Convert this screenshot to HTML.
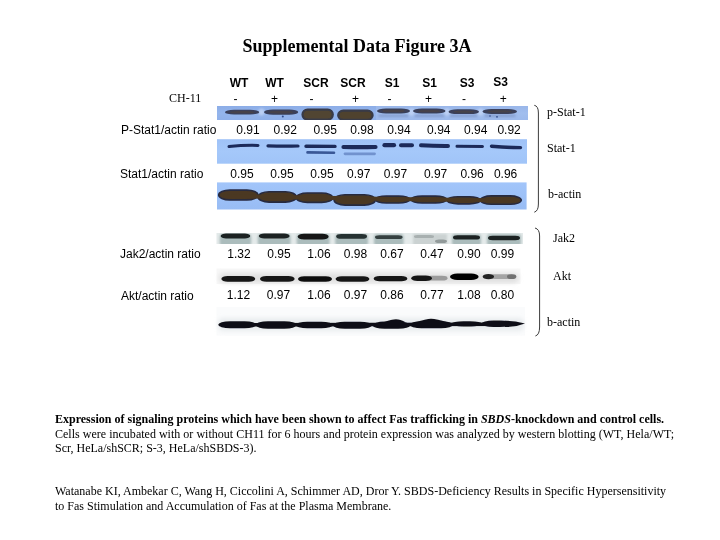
<!DOCTYPE html>
<html><head><meta charset="utf-8"><title>Supplemental Data Figure 3A</title>
<style>
html,body{margin:0;padding:0;background:#fff;}
body{width:720px;height:540px;position:relative;overflow:hidden;font-family:"Liberation Sans",Arial,sans-serif;color:#000;}
.t{position:absolute;white-space:nowrap;line-height:1;}
.serif{font-family:"Liberation Serif","Times New Roman",serif;}
.title{left:-3px;width:720px;text-align:center;top:37px;font-size:18px;font-weight:bold;}
.hd{font-size:12px;font-weight:bold;transform:translateX(-50%);}
.pm{font-size:12px;transform:translateX(-50%);}
.n{font-size:12px;transform:translateX(-50%);}
.lab{font-size:12px;}
.sl{font-size:12px;}
.cap{left:55px;font-size:12px;line-height:14px;white-space:nowrap;}
svg{position:absolute;left:0;top:0;}
</style></head><body>
<div class="t serif title">Supplemental Data Figure 3A</div>

<svg id="blots" width="720" height="540" viewBox="0 0 720 540">
<defs>
<filter id="b0" x="-10%" y="-50%" width="120%" height="200%"><feGaussianBlur stdDeviation="0.45"/></filter>
<filter id="b1" x="-10%" y="-50%" width="120%" height="200%"><feGaussianBlur stdDeviation="0.7"/></filter>
<filter id="b2" x="-10%" y="-80%" width="120%" height="260%"><feGaussianBlur stdDeviation="1.2"/></filter>
<filter id="b3" x="-10%" y="-100%" width="120%" height="300%"><feGaussianBlur stdDeviation="2.2"/></filter>
<linearGradient id="g1" x1="0" y1="0" x2="0" y2="1"><stop offset="0" stop-color="#8cade7"/><stop offset="0.5" stop-color="#94b5ec"/><stop offset="1" stop-color="#90b1ea"/></linearGradient>
<linearGradient id="g2" x1="0" y1="0" x2="0" y2="1"><stop offset="0" stop-color="#9fc2f7"/><stop offset="0.5" stop-color="#a5c8fa"/><stop offset="1" stop-color="#a0c4f8"/></linearGradient>
<linearGradient id="g3" x1="0" y1="0" x2="0" y2="1"><stop offset="0" stop-color="#a2c5fa"/><stop offset="0.6" stop-color="#9cc0f7"/><stop offset="1" stop-color="#98bcf4"/></linearGradient>
<clipPath id="c1"><rect x="217" y="106" width="311" height="14"/></clipPath>
<clipPath id="c2"><rect x="217" y="139.2" width="310" height="24.5"/></clipPath>
<clipPath id="c3"><rect x="217" y="182.4" width="309.6" height="27.1"/></clipPath>
<clipPath id="c4"><rect x="216.5" y="233" width="307" height="11"/></clipPath>
</defs>
<rect x="217" y="106" width="311" height="14" fill="url(#g1)"/>
<g clip-path="url(#c1)">
<rect x="376" y="106" width="152" height="14" fill="#ffffff" opacity="0.12"/>
<g filter="url(#b2)">
<rect x="378.0" y="114.6" width="31.0" height="2.4" rx="2.6" ry="1.2" fill="#5a6a9a" opacity="0.38" />
<rect x="414.0" y="114.6" width="31.0" height="2.4" rx="2.6" ry="1.2" fill="#5a6a9a" opacity="0.38" />
<rect x="449.0" y="114.6" width="29.0" height="2.4" rx="2.6" ry="1.2" fill="#5a6a9a" opacity="0.38" />
<rect x="484.0" y="114.6" width="32.0" height="2.4" rx="2.6" ry="1.2" fill="#5a6a9a" opacity="0.38" />
<ellipse cx="261.5" cy="112" rx="3" ry="3.5" fill="#c4d6f6" opacity="0.8"/>
<ellipse cx="411.5" cy="112" rx="3" ry="3.5" fill="#c4d6f6" opacity="0.8"/>
<ellipse cx="447" cy="112" rx="3" ry="3.5" fill="#c4d6f6" opacity="0.8"/>
<ellipse cx="480.5" cy="112" rx="3" ry="3.5" fill="#c4d6f6" opacity="0.8"/>
</g><g filter="url(#b1)">
<rect x="225.0" y="109.8" width="34.2" height="4.7" rx="9.0" ry="2.4" fill="#3a405a" opacity="1" />
<rect x="230.0" y="111.1" width="24.2" height="2.1" rx="8.0" ry="1.1" fill="#50463e" opacity="0.6" />
<rect x="264.0" y="109.6" width="34.2" height="5.1" rx="9.0" ry="2.6" fill="#3a405a" opacity="1" />
<rect x="269.0" y="110.9" width="24.2" height="2.5" rx="8.0" ry="1.3" fill="#50463e" opacity="0.6" />
<rect x="377.0" y="108.4" width="33.0" height="5.2" rx="9.0" ry="2.6" fill="#3a405a" opacity="1" />
<rect x="382.0" y="109.7" width="23.0" height="2.6" rx="8.0" ry="1.3" fill="#50463e" opacity="0.6" />
<rect x="413.0" y="108.6" width="32.5" height="5.0" rx="9.0" ry="2.5" fill="#3a405a" opacity="1" />
<rect x="418.0" y="109.9" width="22.5" height="2.4" rx="8.0" ry="1.2" fill="#50463e" opacity="0.6" />
<rect x="448.5" y="109.3" width="30.5" height="4.8" rx="9.0" ry="2.4" fill="#3a405a" opacity="1" />
<rect x="453.5" y="110.6" width="20.5" height="2.2" rx="8.0" ry="1.1" fill="#50463e" opacity="0.6" />
<rect x="482.5" y="109.0" width="34.5" height="4.9" rx="9.0" ry="2.5" fill="#3a405a" opacity="1" />
<rect x="487.5" y="110.3" width="24.5" height="2.3" rx="8.0" ry="1.2" fill="#50463e" opacity="0.6" />
<rect x="302.5" y="109.6" width="30.3" height="10.0" rx="5.0" ry="5.0" fill="#514430" opacity="1" stroke="#383a48" stroke-width="2.2"/>
<rect x="338.2" y="110.6" width="34.4" height="9.2" rx="5.0" ry="4.6" fill="#4f422e" opacity="1" stroke="#383a48" stroke-width="2.2"/>
<circle cx="282.8" cy="116.5" r="1" fill="#2f4a8a"/>
<circle cx="497" cy="116.8" r="0.9" fill="#2f4a8a"/><circle cx="490" cy="116" r="0.8" fill="#2f4a8a"/>
</g></g>
<rect x="217" y="139.2" width="310" height="24.5" fill="url(#g2)"/>
<g clip-path="url(#c2)"><g filter="url(#b0)">
<path d="M229.0 146.6 Q243.5 145.0 258.0 145.4" fill="none" stroke="#1c2a5a" stroke-width="3.0" stroke-linecap="round" opacity="1"/>
<path d="M268.0 145.8 Q283.0 146.5 298.0 146.0" fill="none" stroke="#1c2a5a" stroke-width="3.2" stroke-linecap="round" opacity="1"/>
<path d="M306.0 146.2 Q320.5 146.3 335.0 146.4" fill="none" stroke="#1c2a5a" stroke-width="3.4" stroke-linecap="round" opacity="1"/>
<path d="M343.5 147.0 Q359.5 147.4 375.5 147.0" fill="none" stroke="#1c2a5a" stroke-width="4.2" stroke-linecap="round" opacity="1"/>
<path d="M384.5 145.2 Q389.2 145.2 394.0 145.2" fill="none" stroke="#1c2a5a" stroke-width="4.2" stroke-linecap="round" opacity="1"/>
<path d="M401.0 145.3 Q406.5 145.3 412.0 145.3" fill="none" stroke="#1c2a5a" stroke-width="4.0" stroke-linecap="round" opacity="1"/>
<path d="M421.0 145.3 Q434.5 146.1 448.0 146.0" fill="none" stroke="#1c2a5a" stroke-width="4.0" stroke-linecap="round" opacity="1"/>
<path d="M457.0 146.2 Q469.8 146.3 482.5 146.4" fill="none" stroke="#1c2a5a" stroke-width="3.0" stroke-linecap="round" opacity="1"/>
<path d="M491.5 146.2 Q506.0 147.5 520.5 147.6" fill="none" stroke="#1c2a5a" stroke-width="3.4" stroke-linecap="round" opacity="1"/>
<path d="M307.5 152.4 Q320.8 152.6 334.0 152.8" fill="none" stroke="#2c4a8c" stroke-width="2.6" stroke-linecap="round" opacity="0.9"/>
<path d="M345.0 153.8 Q359.8 153.8 374.5 153.8" fill="none" stroke="#5c7cbc" stroke-width="2.8" stroke-linecap="round" opacity="0.7"/>
</g></g>
<rect x="217" y="182.4" width="309.6" height="27.1" fill="url(#g3)"/>
<g clip-path="url(#c3)"><g filter="url(#b0)">
<rect x="218.7" y="190.1" width="39.2" height="9.8" rx="11.0" ry="4.9" fill="#4b3824" opacity="1" stroke="#272a40" stroke-width="1.6"/>
<rect x="258.1" y="191.7" width="38.2" height="10.4" rx="11.0" ry="5.2" fill="#4b3824" opacity="1" stroke="#272a40" stroke-width="1.6"/>
<rect x="296.3" y="193.0" width="36.4" height="9.4" rx="11.0" ry="4.7" fill="#4b3824" opacity="1" stroke="#272a40" stroke-width="1.6"/>
<rect x="334.1" y="194.8" width="41.2" height="10.3" rx="11.0" ry="5.2" fill="#4b3824" opacity="1" stroke="#272a40" stroke-width="1.6"/>
<rect x="375.3" y="196.1" width="34.4" height="6.9" rx="11.0" ry="3.5" fill="#4b3824" opacity="1" stroke="#272a40" stroke-width="1.6"/>
<rect x="411.1" y="196.1" width="35.4" height="6.9" rx="11.0" ry="3.5" fill="#4b3824" opacity="1" stroke="#272a40" stroke-width="1.6"/>
<rect x="447.1" y="196.7" width="33.2" height="7.2" rx="11.0" ry="3.6" fill="#4b3824" opacity="1" stroke="#272a40" stroke-width="1.6"/>
<rect x="480.3" y="195.9" width="41.0" height="8.4" rx="11.0" ry="4.2" fill="#4b3824" opacity="1" stroke="#272a40" stroke-width="1.6"/>
<path d="M225.0 196.0 Q371.5 199.2 518.0 200.5" fill="none" stroke="#4b3824" stroke-width="4" stroke-linecap="round" opacity="1"/>
</g></g>
<rect x="216.5" y="233" width="306.5" height="11" fill="#e4eaea"/>
<g clip-path="url(#c4)"><g filter="url(#b2)">
<rect x="219.7" y="234" width="31.5" height="12" rx="3" fill="#9db0b0" opacity="0.8"/>
<rect x="257.8" y="234" width="32.80000000000001" height="12" rx="3" fill="#9db0b0" opacity="0.8"/>
<rect x="296.7" y="234" width="32.900000000000034" height="12" rx="3" fill="#9db0b0" opacity="0.8"/>
<rect x="335.2" y="234" width="32.80000000000001" height="12" rx="3" fill="#9db0b0" opacity="0.8"/>
<rect x="374" y="234" width="29.600000000000023" height="12" rx="3" fill="#9db0b0" opacity="0.8"/>
<rect x="452" y="234" width="29" height="12" rx="3" fill="#9db0b0" opacity="0.8"/>
<rect x="487" y="234" width="34" height="12" rx="3" fill="#9db0b0" opacity="0.8"/>
<rect x="413" y="234" width="34" height="12" fill="#c0c8c8" opacity="0.7"/>
</g><g filter="url(#b1)">
<rect x="220.7" y="233.6" width="29.5" height="5.0" rx="5.5" ry="2.5" fill="#1a2020" opacity="1" />
<rect x="258.8" y="233.6" width="30.8" height="5.0" rx="5.5" ry="2.5" fill="#1e2424" opacity="1" />
<rect x="297.7" y="233.8" width="30.9" height="5.7" rx="6.3" ry="2.8" fill="#121616" opacity="1" />
<rect x="336.2" y="234.1" width="30.8" height="4.7" rx="5.2" ry="2.4" fill="#283030" opacity="1" />
<rect x="375.0" y="235.2" width="27.6" height="3.9" rx="4.3" ry="2.0" fill="#364040" opacity="1" />
<rect x="453.0" y="235.2" width="27.0" height="4.4" rx="4.8" ry="2.2" fill="#1a2020" opacity="1" />
<rect x="488.0" y="235.8" width="32.0" height="4.4" rx="4.8" ry="2.2" fill="#1a2020" opacity="1" />
<rect x="414.0" y="235.0" width="20.0" height="3.0" rx="3.3" ry="1.5" fill="#a4acac" opacity="0.9" />
<rect x="435.0" y="239.5" width="12.0" height="3.5" rx="3.9" ry="1.8" fill="#8c9494" opacity="0.9" />
</g></g>
<rect x="216.5" y="268.5" width="304" height="15.5" fill="#f7f7f7"/>
<g filter="url(#b3)">
<rect x="219" y="273" width="300" height="10" rx="5" fill="#d8d8d8" opacity="0.75"/>
</g>
<g filter="url(#b1)">
<rect x="426.0" y="275.8" width="21.5" height="4.8" rx="5.3" ry="2.4" fill="#8e8e8e" opacity="0.85" />
<rect x="488.0" y="274.3" width="28.3" height="4.7" rx="5.2" ry="2.3" fill="#9a9a9a" opacity="0.85" />
<rect x="507.0" y="274.3" width="9.3" height="4.7" rx="4.6" ry="2.3" fill="#6a6a6a" opacity="0.85" />
<rect x="221.4" y="276.0" width="33.8" height="5.7" rx="6.3" ry="2.8" fill="#161616" opacity="1" />
<rect x="260.0" y="276.0" width="34.6" height="5.7" rx="6.3" ry="2.8" fill="#181818" opacity="1" />
<rect x="298.0" y="276.2" width="34.0" height="5.5" rx="6.1" ry="2.8" fill="#101010" opacity="1" />
<rect x="335.6" y="276.2" width="33.8" height="5.5" rx="6.1" ry="2.8" fill="#181818" opacity="1" />
<rect x="373.7" y="276.0" width="33.6" height="5.3" rx="5.8" ry="2.7" fill="#161616" opacity="1" />
<rect x="411.2" y="275.4" width="20.8" height="5.6" rx="6.2" ry="2.8" fill="#181818" opacity="1" />
<rect x="450.0" y="273.4" width="28.6" height="6.7" rx="7.4" ry="3.4" fill="#060606" opacity="1" />
<rect x="482.7" y="274.1" width="11.3" height="5.1" rx="5.6" ry="2.5" fill="#242424" opacity="1" />
</g>
<rect x="216.5" y="307" width="308.5" height="28.6" fill="#fafbfc"/>
<g filter="url(#b3)"><rect x="218" y="318" width="306" height="13" rx="5" fill="#d8dde2" opacity="0.5"/></g>
<g filter="url(#b0)">
<rect x="218.2" y="321.2" width="38.3" height="7.0" rx="12.0" ry="3.5" fill="#101018" opacity="1" />
<rect x="256.0" y="321.2" width="40.4" height="7.6" rx="12.0" ry="3.8" fill="#101018" opacity="1" />
<rect x="295.4" y="321.8" width="37.8" height="6.4" rx="12.0" ry="3.2" fill="#101018" opacity="1" />
<rect x="332.8" y="321.8" width="39.2" height="7.0" rx="12.0" ry="3.5" fill="#101018" opacity="1" />
<rect x="372.6" y="321.6" width="37.6" height="7.2" rx="12.0" ry="3.6" fill="#101018" opacity="1" />
<rect x="409.6" y="321.2" width="43.4" height="7.0" rx="12.0" ry="3.5" fill="#101018" opacity="1" />
<rect x="451.5" y="321.2" width="30.5" height="5.4" rx="12.0" ry="2.7" fill="#101018" opacity="1" />
<rect x="481.5" y="320.6" width="30.5" height="6.4" rx="12.0" ry="3.2" fill="#101018" opacity="1" />
<path d="M222.0 324.8 Q366.0 324.5 510.0 324.2" fill="none" stroke="#101018" stroke-width="3.6" stroke-linecap="round" opacity="1"/>
<path d="M505 320.8 Q515 320.6 525 323.6 Q515 327.6 505 327Z" fill="#101018"/>
<path d="M383 322.5 Q392 319.4 396 319.3 Q400 319.4 406 322.5Z" fill="#101018"/>
<path d="M416 322.2 Q426 318.8 431 318.7 Q437 318.8 447 322.2Z" fill="#101018"/>
</g>
<path d="M534.3 105.3 Q538.4 106 538.4 113 L538.4 204 Q538.4 211 534.3 212.2" fill="none" stroke="#3c3c3c" stroke-width="1"/>
<path d="M535 228 Q539.6 229 539.6 236 L539.6 327 Q539.6 334.8 535.4 336" fill="none" stroke="#3c3c3c" stroke-width="1"/>
</svg>
<div class="t hd" style="left:239px;top:77px">WT</div>
<div class="t hd" style="left:274.5px;top:77px">WT</div>
<div class="t hd" style="left:316px;top:77px">SCR</div>
<div class="t hd" style="left:353px;top:77px">SCR</div>
<div class="t hd" style="left:392px;top:77px">S1</div>
<div class="t hd" style="left:429.5px;top:77px">S1</div>
<div class="t hd" style="left:467px;top:76.5px">S3</div>
<div class="t hd" style="left:500.5px;top:76px">S3</div>
<div class="t serif sl" style="left:169px;top:92px">CH-11</div>
<div class="t pm" style="left:235.5px;top:93px">-</div>
<div class="t pm" style="left:274.6px;top:93px">+</div>
<div class="t pm" style="left:311.5px;top:93px">-</div>
<div class="t pm" style="left:355.6px;top:93px">+</div>
<div class="t pm" style="left:389.6px;top:93px">-</div>
<div class="t pm" style="left:428.4px;top:93px">+</div>
<div class="t pm" style="left:464.1px;top:93px">-</div>
<div class="t pm" style="left:503.2px;top:93px">+</div>
<div class="t n" style="left:248px;top:124px">0.91</div>
<div class="t n" style="left:285.2px;top:124px">0.92</div>
<div class="t n" style="left:325.2px;top:124px">0.95</div>
<div class="t n" style="left:361.9px;top:124px">0.98</div>
<div class="t n" style="left:398.9px;top:124px">0.94</div>
<div class="t n" style="left:438.8px;top:124px">0.94</div>
<div class="t n" style="left:475.7px;top:124px">0.94</div>
<div class="t n" style="left:509.1px;top:124px">0.92</div>
<div class="t n" style="left:241.9px;top:168px">0.95</div>
<div class="t n" style="left:282px;top:168px">0.95</div>
<div class="t n" style="left:321.9px;top:168px">0.95</div>
<div class="t n" style="left:358.75px;top:168px">0.97</div>
<div class="t n" style="left:395.4px;top:168px">0.97</div>
<div class="t n" style="left:435.6px;top:168px">0.97</div>
<div class="t n" style="left:472.1px;top:168px">0.96</div>
<div class="t n" style="left:505.6px;top:168px">0.96</div>
<div class="t n" style="left:239px;top:248px">1.32</div>
<div class="t n" style="left:279px;top:248px">0.95</div>
<div class="t n" style="left:319px;top:248px">1.06</div>
<div class="t n" style="left:355.5px;top:248px">0.98</div>
<div class="t n" style="left:392px;top:248px">0.67</div>
<div class="t n" style="left:432px;top:248px">0.47</div>
<div class="t n" style="left:469px;top:248px">0.90</div>
<div class="t n" style="left:502.5px;top:248px">0.99</div>
<div class="t n" style="left:238.5px;top:289px">1.12</div>
<div class="t n" style="left:278.5px;top:289px">0.97</div>
<div class="t n" style="left:319px;top:289px">1.06</div>
<div class="t n" style="left:355.5px;top:289px">0.97</div>
<div class="t n" style="left:392px;top:289px">0.86</div>
<div class="t n" style="left:432px;top:289px">0.77</div>
<div class="t n" style="left:469px;top:289px">1.08</div>
<div class="t n" style="left:502.5px;top:289px">0.80</div>
<div class="t lab" style="left:121px;top:124px">P-Stat1/actin ratio</div>
<div class="t lab" style="left:120px;top:168px">Stat1/actin ratio</div>
<div class="t lab" style="left:120px;top:248px">Jak2/actin ratio</div>
<div class="t lab" style="left:121px;top:290px">Akt/actin ratio</div>
<div class="t serif sl" style="left:547px;top:106px">p-Stat-1</div>
<div class="t serif sl" style="left:547px;top:142px">Stat-1</div>
<div class="t serif sl" style="left:548px;top:188px">b-actin</div>
<div class="t serif sl" style="left:553px;top:232px">Jak2</div>
<div class="t serif sl" style="left:553px;top:270px">Akt</div>
<div class="t serif sl" style="left:547px;top:316px">b-actin</div>
<div class="t serif cap" style="top:412px"><b>Expression of signaling proteins which have been shown to affect Fas trafficking in <i>SBDS</i>-knockdown and control cells.</b></div>
<div class="t serif cap" style="top:427px;letter-spacing:0.015px">Cells were incubated with or without CH11 for 6 hours and protein expression was analyzed by western blotting (WT, Hela/WT;</div>
<div class="t serif cap" style="top:441px">Scr, HeLa/shSCR; S-3, HeLa/shSBDS-3).</div>
<div class="t serif cap" style="top:484px">Watanabe KI, Ambekar C, Wang H, Ciccolini A, Schimmer AD, Dror Y. SBDS-Deficiency Results in Specific Hypersensitivity</div>
<div class="t serif cap" style="top:499px">to Fas Stimulation and Accumulation of Fas at the Plasma Membrane.</div>
</body></html>
